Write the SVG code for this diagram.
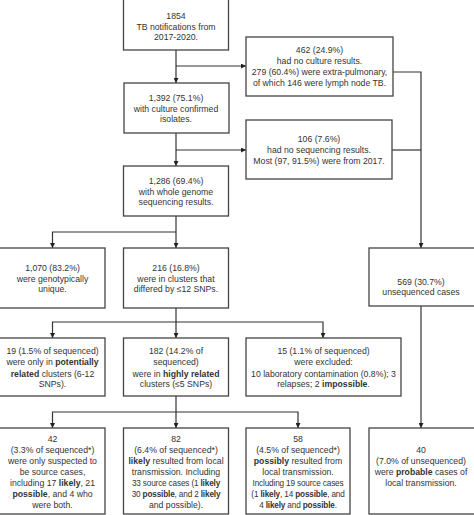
<svg xmlns="http://www.w3.org/2000/svg" width="474" height="515" viewBox="0 0 474 515">
<defs>
<style>
.box{fill:#fff;stroke:#444;stroke-width:1.3}
text{font-family:"Liberation Sans",Arial,sans-serif;font-size:8.7px;fill:#333;text-anchor:middle}
.b{font-weight:bold}
.t{font-size:8.2px;letter-spacing:-0.15px}
.ln{fill:none;stroke:#333;stroke-width:1.2}
</style>
<marker id="ah" viewBox="0 0 10 10" refX="10" refY="5" markerWidth="5" markerHeight="5" orient="auto" markerUnits="userSpaceOnUse">
<path d="M0,0 L10,5 L0,10 z" fill="#222"/>
</marker>
</defs>
<rect width="474" height="515" fill="#fff"/>
<g id="connectors">
<path class="ln" d="M176,50 V83" marker-end="url(#ah)"/>
<path class="ln" d="M176,66 H246" marker-end="url(#ah)"/>
<path class="ln" d="M176,133 V166" marker-end="url(#ah)"/>
<path class="ln" d="M176,150 H246" marker-end="url(#ah)"/>
<path class="ln" d="M393,72 H421 V248" marker-end="url(#ah)"/>
<path class="ln" d="M392,150 H421"/>
<path class="ln" d="M176,216 V248" marker-end="url(#ah)"/>
<path class="ln" d="M176,232 H52.5 V248" marker-end="url(#ah)"/>
<path class="ln" d="M176,308 V338" marker-end="url(#ah)"/>
<path class="ln" d="M176,322 H52.5 V338" marker-end="url(#ah)"/>
<path class="ln" d="M176,322 H323 V338" marker-end="url(#ah)"/>
<path class="ln" d="M421,306 V428" marker-end="url(#ah)"/>
<path class="ln" d="M176,396 V428" marker-end="url(#ah)"/>
<path class="ln" d="M176,412 H52.5 V428" marker-end="url(#ah)"/>
<path class="ln" d="M176,412 H298 V428" marker-end="url(#ah)"/>
</g>
<g id="n1854">
<rect class="box" x="123.5" y="-2" width="105" height="52"/>
<text x="176" y="18.5">1854</text>
<text x="176" y="29.5">TB notifications from</text>
<text x="176" y="40">2017-2020.</text>
</g>
<g id="n462">
<rect class="box" x="246" y="37" width="147" height="59"/>
<text x="319.5" y="53">462 (24.9%)</text>
<text x="319.5" y="64">had no culture results.</text>
<text x="319.5" y="75">279 (60.4%) were extra-pulmonary,</text>
<text x="319.5" y="86">of which 146 were lymph node TB.</text>
</g>
<g id="n1392">
<rect class="box" x="124" y="83" width="105" height="50"/>
<text x="176" y="101">1,392 (75.1%)</text>
<text x="176" y="111.5">with culture confirmed</text>
<text x="176" y="122">isolates.</text>
</g>
<g id="n106">
<rect class="box" x="246" y="120" width="146" height="59"/>
<text x="319" y="142">106 (7.6%)</text>
<text x="319" y="153">had no sequencing results.</text>
<text x="319" y="164">Most (97, 91.5%) were from 2017.</text>
</g>
<g id="n1286">
<rect class="box" x="123.5" y="166" width="105" height="50"/>
<text x="176" y="184">1,286 (69.4%)</text>
<text x="176" y="195">with whole genome</text>
<text x="176" y="205">sequencing results.</text>
</g>
<g id="n1070">
<rect class="box" x="-1" y="248" width="106" height="60"/>
<text x="52.5" y="271">1,070 (83.2%)</text>
<text x="52.5" y="281.5">were genotypically</text>
<text x="52.5" y="292">unique.</text>
</g>
<g id="n216">
<rect class="box" x="123.5" y="248" width="105" height="60"/>
<text x="176" y="271">216 (16.8%)</text>
<text x="176" y="281.5">were in clusters that</text>
<text x="176" y="292">differed by ≤12 SNPs.</text>
</g>
<g id="n569">
<rect class="box" x="369" y="248" width="107" height="58"/>
<text x="421" y="285">569 (30.7%)</text>
<text x="421" y="295">unsequenced cases</text>
</g>
<g id="n19">
<rect class="box" x="-1" y="338" width="106" height="58"/>
<text x="52.5" y="354">19 (1.5% of sequenced)</text>
<text x="52.5" y="365">were only in <tspan class="b">potentially</tspan></text>
<text x="52.5" y="376.5"><tspan class="b">related</tspan> clusters (6-12</text>
<text x="52.5" y="387">SNPs).</text>
</g>
<g id="n182">
<rect class="box" x="123.5" y="338" width="105" height="58"/>
<text x="176" y="354">182 (14.2% of</text>
<text x="176" y="365">sequenced)</text>
<text x="176" y="376.5">were in <tspan class="b">highly related</tspan></text>
<text x="176" y="387">clusters (≤5 SNPs)</text>
</g>
<g id="n15">
<rect class="box" x="246" y="338" width="155" height="58"/>
<text x="323.5" y="354">15 (1.1% of sequenced)</text>
<text x="323.5" y="365">were excluded:</text>
<text x="323.5" y="376.5">10 laboratory contamination (0.8%); 3</text>
<text x="323.5" y="387">relapses; 2 <tspan class="b">impossible</tspan>.</text>
</g>
<g id="n42">
<rect class="box" x="-1" y="428" width="106" height="86"/>
<text x="52.5" y="442">42</text>
<text x="52.5" y="453">(3.3% of sequenced*)</text>
<text x="52.5" y="464">were only suspected to</text>
<text x="52.5" y="475">be source cases,</text>
<text x="52.5" y="486">including 17 <tspan class="b">likely</tspan>, 21</text>
<text x="52.5" y="497"><tspan class="b">possible</tspan>, and 4 who</text>
<text x="52.5" y="507.5">were both.</text>
</g>
<g id="n82">
<rect class="box" x="123.5" y="428" width="105" height="86"/>
<text x="176" y="442">82</text>
<text x="176" y="453">(6.4% of sequenced*)</text>
<text x="176" y="464"><tspan class="b">likely</tspan> resulted from local</text>
<text x="176" y="475">transmission. Including</text>
<text class="t" x="176" y="486">33 source cases (1 <tspan class="b">likely</tspan></text>
<text class="t" x="176" y="497">30 <tspan class="b">possible</tspan>, and 2 <tspan class="b">likely</tspan></text>
<text x="176" y="507.5">and possible).</text>
</g>
<g id="n58">
<rect class="box" x="246" y="428" width="104" height="86"/>
<text x="298" y="442">58</text>
<text x="298" y="453">(4.5% of sequenced*)</text>
<text x="298" y="464"><tspan class="b">possibly</tspan> resulted from</text>
<text x="298" y="475">local transmission.</text>
<text class="t" x="298" y="486">Including 19 source cases</text>
<text class="t" x="298" y="497">(1 <tspan class="b">likely</tspan>, 14 <tspan class="b">possible</tspan>, and</text>
<text class="t" x="298" y="507.5">4 <tspan class="b">likely</tspan> and <tspan class="b">possible</tspan>.</text>
</g>
<g id="n40">
<rect class="box" x="369" y="428" width="107" height="86"/>
<text x="421" y="453">40</text>
<text x="421" y="464">(7.0% of unsequenced)</text>
<text x="421" y="475">were <tspan class="b">probable</tspan> cases of</text>
<text x="421" y="486">local transmission.</text>
</g>
</svg>
